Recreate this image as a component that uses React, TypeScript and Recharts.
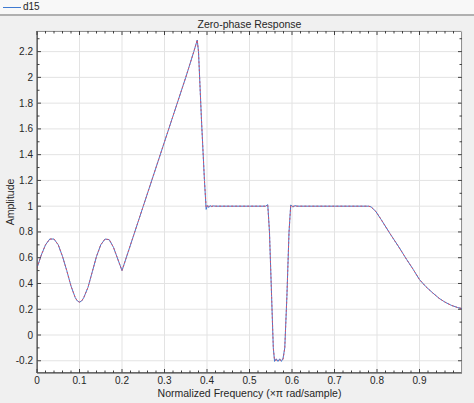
import { LineChart, Line, XAxis, YAxis, CartesianGrid } from "recharts"

// normalized frequency (x pi rad/sample)
const freq = [
  0, 0.01, 0.02, 0.03, 0.04, 0.05, 0.06, 0.07, 0.08, 0.09, 0.095, 0.1, 0.105,
  0.11, 0.12, 0.13, 0.14, 0.15, 0.16, 0.17, 0.18, 0.19, 0.2,
  0.25, 0.3, 0.35, 0.369, 0.377, 0.38, 0.387, 0.394, 0.398, 0.401,
  0.404, 0.407, 0.41, 0.415, 0.42, 0.5, 0.538, 0.543, 0.547, 0.552,
  0.556, 0.559, 0.563, 0.567, 0.571, 0.575, 0.579, 0.583, 0.588, 0.593,
  0.597, 0.602, 0.607, 0.612, 0.7, 0.78, 0.786, 0.797, 0.81, 0.83,
  0.85, 0.87, 0.885, 0.9, 0.915, 0.93, 0.946, 0.96, 0.975, 0.99, 1,
]

// designed filter d15 (blue)
const d15 = [
  0.52, 0.62, 0.7, 0.745, 0.745, 0.7, 0.61, 0.5, 0.38, 0.29, 0.264, 0.255, 0.264,
  0.29, 0.37, 0.49, 0.61, 0.7, 0.745, 0.74, 0.68, 0.59, 0.5,
  1.0, 1.5, 2.0, 2.2, 2.29, 2.2, 1.67, 1.2, 0.975, 1.005,
  0.99, 1.005, 0.997, 1.002, 1.0, 1.0, 1.0, 1.012, 0.8, 0.3,
  -0.1, -0.205, -0.185, -0.205, -0.185, -0.205, -0.18, -0.1, 0.3, 0.8,
  1.01, 0.993, 1.004, 1.0, 1.0, 1.0, 0.995, 0.96, 0.895, 0.79,
  0.69, 0.585, 0.51, 0.43, 0.375, 0.33, 0.285, 0.255, 0.23, 0.213, 0.205,
]

// reference response (red)
const ref = [
  0.52, 0.62, 0.7, 0.745, 0.745, 0.7, 0.61, 0.5, 0.38, 0.29, 0.264, 0.255, 0.264,
  0.29, 0.37, 0.49, 0.61, 0.7, 0.745, 0.74, 0.68, 0.59, 0.5,
  1.0, 1.5, 2.0, 2.2, 2.29, 2.2, 1.67, 1.2, 0.99, 1.0,
  1.0, 1.0, 1.0, 1.0, 1.0, 1.0, 1.0, 1.005, 0.8, 0.3,
  -0.1, -0.195, -0.195, -0.195, -0.195, -0.195, -0.19, -0.1, 0.3, 0.8,
  1.005, 1.0, 1.0, 1.0, 1.0, 1.0, 0.995, 0.96, 0.895, 0.79,
  0.69, 0.585, 0.51, 0.43, 0.375, 0.33, 0.285, 0.255, 0.23, 0.213, 0.205,
]

const xMajor = [0, 0.1, 0.2, 0.3, 0.4, 0.5, 0.6, 0.7, 0.8, 0.9]
const xMinor = [
  0, 0.02, 0.04, 0.06, 0.08, 0.1, 0.12, 0.14, 0.16, 0.18, 0.2, 0.22, 0.24,
  0.26, 0.28, 0.3, 0.32, 0.34, 0.36, 0.38, 0.4, 0.42, 0.44, 0.46, 0.48,
  0.5, 0.52, 0.54, 0.56, 0.58, 0.6, 0.62, 0.64, 0.66, 0.68, 0.7, 0.72,
  0.74, 0.76, 0.78, 0.8, 0.82, 0.84, 0.86, 0.88, 0.9, 0.92, 0.94, 0.96, 0.98,
]
const yMajor = [-0.2, 0, 0.2, 0.4, 0.6, 0.8, 1, 1.2, 1.4, 1.6, 1.8, 2, 2.2]
const yMinor = [
  -0.2, -0.1, 0, 0.1, 0.2, 0.3, 0.4, 0.5, 0.6, 0.7, 0.8, 0.9, 1, 1.1, 1.2,
  1.3, 1.4, 1.5, 1.6, 1.7, 1.8, 1.9, 2, 2.1, 2.2, 2.3,
]

const data = freq.map((f, i) => ({ f, d15: d15[i], ref: ref[i] }))

const FONT = '"Liberation Sans", Arial, sans-serif'
const AX = "#404040"
const TXT = "#262626"
const Y_DOMAIN = [-0.295, 2.36]

const isMajor = (list: number[], v: number) => list.some((m) => Math.abs(m - v) < 1e-6)
const fmt = (v: number) => String(Math.round(v * 10) / 10)

// tick marks point into the plot, like MATLAB
function BottomTick(props: any) {
  const { x, y, payload } = props
  const major = isMajor(xMajor, payload.value)
  return (
    <g>
      <line x1={x} y1={y} x2={x} y2={y - (major ? 4 : 2.5)} stroke={AX} />
      {major && (
        <text x={x} y={y + 11} textAnchor="middle" fontSize={10} fill={TXT} fontFamily={FONT}>
          {fmt(payload.value)}
        </text>
      )}
    </g>
  )
}

function TopTick(props: any) {
  const { x, y, payload } = props
  const major = isMajor(xMajor, payload.value)
  return <line x1={x} y1={y} x2={x} y2={y + (major ? 4 : 2.5)} stroke={AX} />
}

function LeftTick(props: any) {
  const { x, y, payload } = props
  const major = isMajor(yMajor, payload.value)
  return (
    <g>
      <line x1={x} y1={y} x2={x + (major ? 4 : 2.5)} y2={y} stroke={AX} />
      {major && (
        <text x={x - 4} y={y + 3.5} textAnchor="end" fontSize={10} fill={TXT} fontFamily={FONT}>
          {fmt(payload.value)}
        </text>
      )}
    </g>
  )
}

function RightTick(props: any) {
  const { x, y, payload } = props
  const major = isMajor(yMajor, payload.value)
  return <line x1={x} y1={y} x2={x - (major ? 4 : 2.5)} y2={y} stroke={AX} />
}

export default function App() {
  return (
    <div style={{ position: "absolute", left: 0, top: 0, width: 474, height: 403, background: "#f0f0f0", fontFamily: FONT, overflow: "hidden" }}>
      {/* toolbar legend */}
      <div style={{ position: "absolute", left: 0, top: 0, width: 474, height: 14, background: "#f8f8f8", borderBottom: "2px solid #b0b0b0" }}>
        <div style={{ position: "absolute", left: 3, top: 7, width: 18, height: 1, background: "#3f7ad1" }} />
        <div style={{ position: "absolute", left: 23, top: 0, fontSize: 10, lineHeight: "14px", color: TXT }}>d15</div>
      </div>
      <div style={{ position: "absolute", left: 37, top: 18, width: 425, textAlign: "center", fontSize: 10.5, color: TXT }}>
        Zero-phase Response
      </div>
      <div style={{ position: "absolute", left: 37, top: 31, width: 425, height: 342, background: "#ffffff", boxSizing: "border-box", border: `1px solid ${AX}` }} />
      <div style={{ position: "absolute", left: 0, top: 0 }}>
        <LineChart width={474} height={403} data={data} margin={{ top: 30, right: 11, bottom: 0, left: 0 }}>
          <XAxis
            xAxisId="x"
            dataKey="f"
            type="number"
            domain={[0, 1]}
            ticks={xMinor}
            interval={0}
            allowDataOverflow
            height={30}
            tickSize={0}
            tickMargin={0}
            tickLine={false}
            tick={<BottomTick />}
            axisLine={{ stroke: AX }}
            label={{ value: "Normalized Frequency (×π rad/sample)", position: "insideBottom", offset: 6, fontSize: 10.5, fill: TXT, fontFamily: FONT }}
          />
          <XAxis
            xAxisId="top"
            orientation="top"
            dataKey="f"
            type="number"
            domain={[0, 1]}
            ticks={xMinor}
            interval={0}
            allowDataOverflow
            height={1}
            tickSize={0}
            tickMargin={0}
            tickLine={false}
            tick={<TopTick />}
            axisLine={false}
          />
          <YAxis
            yAxisId="y"
            type="number"
            domain={Y_DOMAIN}
            ticks={yMinor}
            interval={0}
            allowDataOverflow
            width={37}
            tickSize={0}
            tickMargin={0}
            tickLine={false}
            tick={<LeftTick />}
            axisLine={{ stroke: AX }}
            label={{ value: "Amplitude", angle: -90, position: "insideLeft", offset: 10, fontSize: 10.5, fill: TXT, fontFamily: FONT, style: { textAnchor: "middle" } }}
          />
          <YAxis
            yAxisId="right"
            orientation="right"
            type="number"
            domain={Y_DOMAIN}
            ticks={yMinor}
            interval={0}
            allowDataOverflow
            width={1}
            tickSize={0}
            tickMargin={0}
            tickLine={false}
            tick={<RightTick />}
            axisLine={false}
          />
          <XAxis xAxisId="gx" dataKey="f" type="number" domain={[0, 1]} ticks={xMajor} hide height={0} allowDataOverflow />
          <YAxis yAxisId="gy" type="number" domain={Y_DOMAIN} ticks={yMajor} hide width={0} allowDataOverflow />
          <CartesianGrid xAxisId="gx" yAxisId="gy" stroke="#e3e3e3" />
          <Line
            xAxisId="x"
            yAxisId="y"
            type="linear"
            dataKey="d15"
            stroke="#3f7ad1"
            strokeWidth={1}
            dot={false}
            isAnimationActive={false}
          />
          <Line
            xAxisId="x"
            yAxisId="y"
            type="linear"
            dataKey="ref"
            stroke="#d9506a"
            strokeWidth={1}
            strokeDasharray="2 2"
            dot={false}
            isAnimationActive={false}
          />
        </LineChart>
      </div>
    </div>
  )
}
